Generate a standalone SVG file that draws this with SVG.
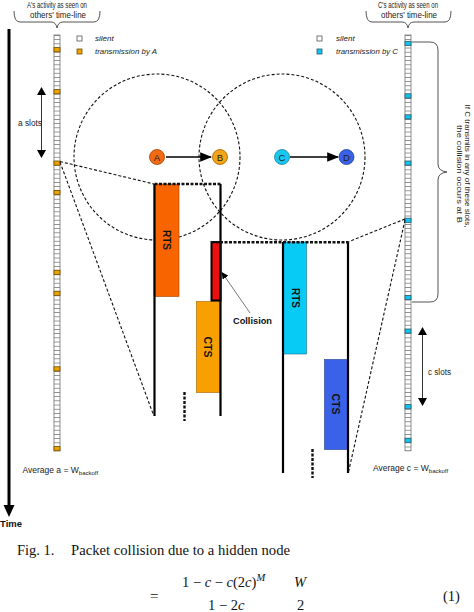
<svg xmlns="http://www.w3.org/2000/svg" width="474" height="612" viewBox="0 0 474 612">
<style>
.t{font-family:"Liberation Sans",Arial,sans-serif;fill:#222}
.s{font-family:"Liberation Serif","Times New Roman",serif;fill:#111}
.brace{fill:none;stroke:#555;stroke-width:1}
.dash{fill:none;stroke:#111;stroke-width:1.1;stroke-dasharray:3,2}
.tdash{fill:none;stroke:#111;stroke-width:2.4;stroke-dasharray:3,1.5}
.tl{stroke:#000;stroke-width:2.2;fill:none}
.slotA{fill:#f2a000;stroke:#6b5000;stroke-width:0.8}
.slotC{fill:#10c4ee;stroke:#305a68;stroke-width:0.8}
.bold{font-weight:bold;fill:#111}
</style>
<defs>
<pattern id="gridA" x="54" y="35" width="6" height="4.2" patternUnits="userSpaceOnUse">
<rect width="6" height="4.2" fill="#fff"/><line x1="0" y1="0.4" x2="6" y2="0.4" stroke="#707070" stroke-width="0.8"/>
</pattern>
<pattern id="gridC" x="405" y="35" width="6" height="4.2" patternUnits="userSpaceOnUse">
<rect width="6" height="4.2" fill="#fff"/><line x1="0" y1="0.4" x2="6" y2="0.4" stroke="#707070" stroke-width="0.8"/>
</pattern>
<marker id="ah" viewBox="0 0 10 10" refX="9" refY="5" markerWidth="7" markerHeight="7" orient="auto" markerUnits="userSpaceOnUse">
<path d="M0,0 L10,5 L0,10 z" fill="#000"/>
</marker>
<marker id="ah2" viewBox="0 0 10 10" refX="9" refY="5" markerWidth="12" markerHeight="12" orient="auto" markerUnits="userSpaceOnUse">
<path d="M0,1 L10,5 L0,9 z" fill="#000"/>
</marker>
</defs>

<!-- Time axis -->
<g id="time-axis">
<line x1="9" y1="29" x2="9" y2="507" stroke="#000" stroke-width="3"/>
<polygon points="3.5,505 14.5,505 9,517" fill="#000"/>
<text class="t bold" x="0" y="527" font-size="9.5">Time</text>
</g>

<!-- Headers with braces -->
<g id="header-A">
<text class="t" x="57" y="8" font-size="9" text-anchor="middle" textLength="60" lengthAdjust="spacingAndGlyphs">A's activity as seen on</text>
<text class="t" x="58" y="18" font-size="9" text-anchor="middle" textLength="56" lengthAdjust="spacingAndGlyphs">others' time-line</text>
<path class="brace" d="M14,11 Q14,22 20,22 L51,22 Q56,22 57,28 Q58,22 63,22 L94,22 Q100,22 100,11"/>
</g>
<g id="header-C">
<text class="t" x="408" y="8" font-size="9" text-anchor="middle" textLength="60" lengthAdjust="spacingAndGlyphs">C's activity as seen on</text>
<text class="t" x="409" y="18" font-size="9" text-anchor="middle" textLength="56" lengthAdjust="spacingAndGlyphs">others' time-line</text>
<path class="brace" d="M366,11 Q366,22 372,22 L402,22 Q407,22 408,28 Q409,22 414,22 L445,22 Q451,22 451,11"/>
</g>

<!-- Legends -->
<g id="legend-A">
<rect x="77" y="36" width="5" height="5" fill="#fff" stroke="#555" stroke-width="0.8"/>
<rect x="77" y="49" width="5" height="5" class="slotA"/>
<text class="t" x="95" y="41" font-size="8" font-style="italic">silent</text>
<text class="t" x="95" y="54" font-size="8" font-style="italic" textLength="62" lengthAdjust="spacingAndGlyphs">transmission by A</text>
</g>
<g id="legend-C">
<rect x="317" y="36" width="5" height="5" fill="#fff" stroke="#555" stroke-width="0.8"/>
<rect x="317" y="49" width="5" height="5" class="slotC"/>
<text class="t" x="336" y="41" font-size="8" font-style="italic">silent</text>
<text class="t" x="336" y="54" font-size="8" font-style="italic" textLength="62" lengthAdjust="spacingAndGlyphs">transmission by C</text>
</g>

<!-- Slot columns -->
<g id="slots-A">
<rect x="54" y="35" width="6" height="415.8" fill="url(#gridA)" stroke="#707070" stroke-width="0.8"/>
<rect x="54" y="47.6" width="6" height="4.2" class="slotA"/>
<rect x="54" y="89.6" width="6" height="4.2" class="slotA"/>
<rect x="54" y="161" width="6" height="4.2" class="slotA"/>
<rect x="54" y="190.4" width="6" height="4.2" class="slotA"/>
<rect x="54" y="270.2" width="6" height="4.2" class="slotA"/>
<rect x="54" y="291.2" width="6" height="4.2" class="slotA"/>
<rect x="54" y="366.8" width="6" height="4.2" class="slotA"/>
<rect x="54" y="446.6" width="6" height="4.2" class="slotA"/>
</g>
<g id="slots-C">
<rect x="405" y="35" width="6" height="415.8" fill="url(#gridC)" stroke="#707070" stroke-width="0.8"/>
<rect x="405" y="41.3" width="6" height="4.2" class="slotC"/>
<rect x="405" y="93.8" width="6" height="4.2" class="slotC"/>
<rect x="405" y="114.8" width="6" height="4.2" class="slotC"/>
<rect x="405" y="161" width="6" height="4.2" class="slotC"/>
<rect x="405" y="218.2" width="6" height="4.2" class="slotC"/>
<rect x="405" y="295.4" width="6" height="4.2" class="slotC"/>
<rect x="405" y="329" width="6" height="4.2" class="slotC"/>
<rect x="405" y="404.6" width="6" height="4.2" class="slotC"/>
<rect x="405" y="438.2" width="6" height="4.2" class="slotC"/>
</g>

<!-- slot-count arrows -->
<g id="a-slots">
<line x1="41.5" y1="93" x2="41.5" y2="152" stroke="#333" stroke-width="1"/>
<polygon points="37,95 46,95 41.5,87" fill="#000"/>
<polygon points="37,150 46,150 41.5,158" fill="#000"/>
<text class="t" x="18" y="126" font-size="8.5" textLength="24" lengthAdjust="spacingAndGlyphs">a slots</text>
</g>
<g id="c-slots">
<line x1="422.5" y1="333" x2="422.5" y2="400" stroke="#333" stroke-width="1"/>
<polygon points="418,335 427,335 422.5,327" fill="#000"/>
<polygon points="418,398 427,398 422.5,406" fill="#000"/>
<text class="t" x="428" y="375" font-size="8.5" textLength="23" lengthAdjust="spacingAndGlyphs">c slots</text>
</g>

<!-- right brace with note -->
<g id="brace-note">
<path class="brace" d="M412,42 L430,42 Q438,42 438,50 L438,164 Q438,171 447,172 Q438,173 438,180 L438,294 Q438,302 430,302 L412,302"/>
<text class="t" transform="translate(464.5,166) rotate(90)" font-size="8" text-anchor="middle" textLength="123" lengthAdjust="spacingAndGlyphs">If C transmits in any of these slots,</text>
<text class="t" transform="translate(456.5,174) rotate(90)" font-size="8" text-anchor="middle" textLength="98" lengthAdjust="spacingAndGlyphs">the collision occurs at B</text>
</g>

<!-- Range circles -->
<g id="ranges">
<circle cx="157" cy="157" r="83" class="dash" stroke-width="0.9"/>
<circle cx="282" cy="157" r="83" class="dash" stroke-width="0.9"/>
</g>

<!-- Nodes -->
<g id="node-A">
<circle cx="157" cy="157" r="7.5" fill="#f26a12" stroke="#a04000" stroke-width="0.8"/>
<text class="t" x="157" y="160.5" font-size="9.5" text-anchor="middle">A</text>
</g>
<g id="node-B">
<circle cx="220" cy="157" r="7.5" fill="#f5a418" stroke="#a06000" stroke-width="0.8"/>
<text class="t" x="220" y="160.5" font-size="9.5" text-anchor="middle">B</text>
</g>
<g id="node-C">
<circle cx="282" cy="157" r="7.5" fill="#18c8f0" stroke="#208098" stroke-width="0.8"/>
<text class="t" x="282" y="160.5" font-size="9.5" text-anchor="middle">C</text>
</g>
<g id="node-D">
<circle cx="346.5" cy="157" r="7.5" fill="#3a62e6" stroke="#203c90" stroke-width="0.8"/>
<text class="t" x="346.5" y="160.5" font-size="9.5" text-anchor="middle">D</text>
</g>

<!-- Packets -->
<g id="rts-A">
<rect x="154" y="184" width="25" height="112.5" fill="#f86400" stroke="#a04000" stroke-width="0.6"/>
<text class="t bold" transform="translate(166.5,240) rotate(90)" font-size="10" text-anchor="middle" dy="0.35em">RTS</text>
</g>
<g id="cts-B">
<rect x="196.5" y="301.5" width="23.5" height="91" fill="#f8a000" stroke="#a06000" stroke-width="0.6"/>
<text class="t bold" transform="translate(208,347) rotate(90)" font-size="10.5" text-anchor="middle" dy="0.35em">CTS</text>
</g>
<g id="collision">
<rect x="211.5" y="242" width="9" height="58.5" fill="#ee1010" stroke="#000" stroke-width="2"/>
</g>
<g id="rts-C">
<rect x="283" y="242" width="23.5" height="112" fill="#08cbf5" stroke="#207090" stroke-width="0.6"/>
<text class="t bold" transform="translate(295,298) rotate(90)" font-size="10" text-anchor="middle" dy="0.35em">RTS</text>
</g>
<g id="cts-D">
<rect x="324.5" y="359.5" width="23.5" height="90" fill="#3a62e8" stroke="#203c90" stroke-width="0.6"/>
<text class="t bold" transform="translate(336,404) rotate(90)" font-size="10.5" text-anchor="middle" dy="0.35em">CTS</text>
</g>

<!-- Connectors -->
<g id="connectors">
<line x1="166" y1="157" x2="211" y2="157" stroke="#000" stroke-width="1.5" marker-end="url(#ah2)"/>
<line x1="290" y1="157" x2="338" y2="157" stroke="#000" stroke-width="1.5" marker-end="url(#ah2)"/>
<line class="tl" x1="154.5" y1="184" x2="154.5" y2="416"/>
<line class="tl" x1="220.5" y1="184" x2="220.5" y2="416"/>
<line class="tl" x1="283" y1="242" x2="283" y2="473"/>
<line class="tl" x1="348" y1="242" x2="348" y2="473"/>
<line class="tdash" x1="154.5" y1="184" x2="220.5" y2="184"/>
<line class="tdash" x1="211" y1="242.3" x2="348" y2="242.3"/>
<line class="tdash" x1="184.5" y1="392" x2="184.5" y2="421" stroke-dasharray="2.5,1.5"/>
<line class="tdash" x1="312.5" y1="449" x2="312.5" y2="478" stroke-dasharray="2.5,1.5"/>
<line class="dash" x1="60" y1="161.5" x2="154" y2="184"/>
<line class="dash" x1="60" y1="162" x2="153.5" y2="415"/>
<line class="dash" x1="405" y1="219" x2="348" y2="242"/>
<line class="dash" x1="405" y1="220" x2="348.5" y2="472"/>
<line x1="250" y1="313" x2="222" y2="272.5" stroke="#555" stroke-width="0.8" marker-end="url(#ah)"/>
</g>
<text class="t bold" x="233" y="323.5" font-size="9.5" textLength="39" lengthAdjust="spacingAndGlyphs">Collision</text>

<!-- averages -->
<text class="t" x="22.5" y="473" font-size="8.5">Average a = W<tspan font-size="6" dy="1.5">backoff</tspan></text>
<text class="t" x="373" y="471" font-size="8.5">Average c = W<tspan font-size="6" dy="1.5">backoff</tspan></text>

<!-- caption and equation -->
<text class="s" x="17" y="554.5" font-size="14.5">Fig. 1.</text>
<text class="s" x="71" y="554.5" font-size="14.5" textLength="219" lengthAdjust="spacingAndGlyphs">Packet collision due to a hidden node</text>
<text class="s" x="150" y="601" font-size="15">=</text>
<text class="s" x="182" y="586.5" font-size="14.5">1 − <tspan font-style="italic">c</tspan> − <tspan font-style="italic">c</tspan>(2<tspan font-style="italic">c</tspan>)<tspan font-style="italic" font-size="10.5" dy="-6">M</tspan></text>
<text class="s" x="208" y="610" font-size="14.5">1 − 2<tspan font-style="italic">c</tspan></text>
<text class="s" x="294" y="586.5" font-size="14.5" font-style="italic">W</text>
<text class="s" x="297" y="610" font-size="14.5">2</text>
<text class="s" x="443" y="601" font-size="14.5">(1)</text>
</svg>
